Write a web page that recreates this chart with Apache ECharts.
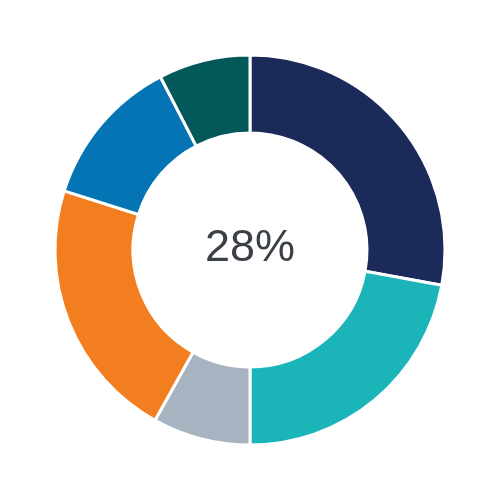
<!DOCTYPE html>
<html>
<head>
<meta charset="utf-8">
<script src="https://cdn.jsdelivr.net/npm/echarts@6/dist/echarts.min.js"></script>
<style>
  html, body { margin: 0; padding: 0; background: #fff; }
  #chart { width: 500px; height: 500px; }
</style>
</head>
<body>
<div id="chart"></div>
<script>
// slice shares (%), clockwise from 12 o'clock
const segmentNames = ['A', 'B', 'C', 'D', 'E', 'F'];
const segmentValues = [27.9, 22.1, 8.1, 21.8, 12.5, 7.6];
const segmentColors = ['#1c2a5a', '#1bb4b8', '#a8b3c1', '#f37e20', '#0474b4', '#035859'];
const centerLabel = '28%';

const chart = echarts.init(document.getElementById('chart'));

const option = {
  animation: false,
  graphic: [{
    type: 'text',
    x: 250,
    y: 249,
    style: {
      text: centerLabel,
      align: 'center',
      verticalAlign: 'middle',
      font: '45px "Liberation Sans", Arial, sans-serif',
      fill: '#3b4048'
    }
  }],
  series: [{
    type: 'pie',
    center: [250, 250],
    radius: [117, 195],
    startAngle: 90,
    clockwise: true,
    silent: true,
    label: { show: false },
    labelLine: { show: false },
    itemStyle: {
      borderColor: '#ffffff',
      borderWidth: 3
    },
    data: segmentNames.map((n, i) => ({
      name: n,
      value: segmentValues[i],
      itemStyle: { color: segmentColors[i] }
    }))
  }]
};

chart.setOption(option);
</script>
</body>
</html>
